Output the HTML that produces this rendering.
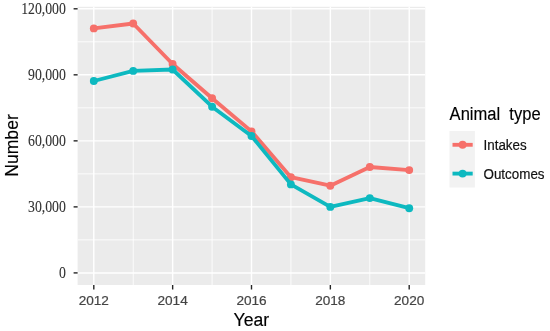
<!DOCTYPE html>
<html><head><meta charset="utf-8"><title>Animal intakes and outcomes</title>
<style>
html,body{margin:0;padding:0;background:#fff;}
svg{display:block;}
.ys{font-family:"Liberation Serif",serif;font-size:16.8px;fill:#333;stroke:#333;stroke-width:0.1px;}
.xs{font-family:"Liberation Sans",sans-serif;font-size:13.6px;fill:#444;stroke:#444;stroke-width:0.2px;}
.tt{font-family:"Liberation Sans",sans-serif;font-size:17.6px;fill:#000;stroke:#000;stroke-width:0.15px;}
.lg{font-family:"Liberation Sans",sans-serif;font-size:14.9px;fill:#111;stroke:#111;stroke-width:0.2px;}
</style></head><body>
<svg width="550" height="331" viewBox="0 0 550 331">
<rect width="550" height="331" fill="#ffffff"/>
<rect x="77.6" y="6.8" width="347.6" height="278.2" fill="#ebebeb"/>
<line x1="77.6" x2="425.2" y1="239.89" y2="239.89" stroke="#fff" stroke-width="0.85"/>
<line x1="77.6" x2="425.2" y1="173.86" y2="173.86" stroke="#fff" stroke-width="0.85"/>
<line x1="77.6" x2="425.2" y1="107.84" y2="107.84" stroke="#fff" stroke-width="0.85"/>
<line x1="77.6" x2="425.2" y1="41.81" y2="41.81" stroke="#fff" stroke-width="0.85"/>
<line y1="6.8" y2="285.0" x1="133.22" x2="133.22" stroke="#fff" stroke-width="0.85"/>
<line y1="6.8" y2="285.0" x1="212.07" x2="212.07" stroke="#fff" stroke-width="0.85"/>
<line y1="6.8" y2="285.0" x1="290.93" x2="290.93" stroke="#fff" stroke-width="0.85"/>
<line y1="6.8" y2="285.0" x1="369.77" x2="369.77" stroke="#fff" stroke-width="0.85"/>
<line x1="77.6" x2="425.2" y1="272.90" y2="272.90" stroke="#fff" stroke-width="1.45"/>
<line x1="77.6" x2="425.2" y1="206.88" y2="206.88" stroke="#fff" stroke-width="1.45"/>
<line x1="77.6" x2="425.2" y1="140.85" y2="140.85" stroke="#fff" stroke-width="1.45"/>
<line x1="77.6" x2="425.2" y1="74.83" y2="74.83" stroke="#fff" stroke-width="1.45"/>
<line x1="77.6" x2="425.2" y1="8.80" y2="8.80" stroke="#fff" stroke-width="1.45"/>
<line y1="6.8" y2="285.0" x1="93.80" x2="93.80" stroke="#fff" stroke-width="1.45"/>
<line y1="6.8" y2="285.0" x1="172.65" x2="172.65" stroke="#fff" stroke-width="1.45"/>
<line y1="6.8" y2="285.0" x1="251.50" x2="251.50" stroke="#fff" stroke-width="1.45"/>
<line y1="6.8" y2="285.0" x1="330.35" x2="330.35" stroke="#fff" stroke-width="1.45"/>
<line y1="6.8" y2="285.0" x1="409.20" x2="409.20" stroke="#fff" stroke-width="1.45"/>
<polyline fill="none" stroke="#F6706A" stroke-width="3.85" stroke-linejoin="round" points="93.8,28.4 133.2,23.5 172.6,64.0 212.1,98.2 251.5,131.4 290.9,177.2 330.3,185.7 369.8,167.0 409.2,170.1"/>
<circle cx="93.8" cy="28.4" r="3.95" fill="#F6706A"/>
<circle cx="133.2" cy="23.5" r="3.95" fill="#F6706A"/>
<circle cx="172.6" cy="64.0" r="3.95" fill="#F6706A"/>
<circle cx="212.1" cy="98.2" r="3.95" fill="#F6706A"/>
<circle cx="251.5" cy="131.4" r="3.95" fill="#F6706A"/>
<circle cx="290.9" cy="177.2" r="3.95" fill="#F6706A"/>
<circle cx="330.3" cy="185.7" r="3.95" fill="#F6706A"/>
<circle cx="369.8" cy="167.0" r="3.95" fill="#F6706A"/>
<circle cx="409.2" cy="170.1" r="3.95" fill="#F6706A"/>
<polyline fill="none" stroke="#0DB9C0" stroke-width="3.85" stroke-linejoin="round" points="93.8,81.0 133.2,70.9 172.6,69.5 212.1,106.7 251.5,136.0 290.9,184.4 330.3,206.9 369.8,198.1 409.2,208.2"/>
<circle cx="93.8" cy="81.0" r="3.95" fill="#0DB9C0"/>
<circle cx="133.2" cy="70.9" r="3.95" fill="#0DB9C0"/>
<circle cx="172.6" cy="69.5" r="3.95" fill="#0DB9C0"/>
<circle cx="212.1" cy="106.7" r="3.95" fill="#0DB9C0"/>
<circle cx="251.5" cy="136.0" r="3.95" fill="#0DB9C0"/>
<circle cx="290.9" cy="184.4" r="3.95" fill="#0DB9C0"/>
<circle cx="330.3" cy="206.9" r="3.95" fill="#0DB9C0"/>
<circle cx="369.8" cy="198.1" r="3.95" fill="#0DB9C0"/>
<circle cx="409.2" cy="208.2" r="3.95" fill="#0DB9C0"/>
<line x1="73.6" x2="77.6" y1="272.90" y2="272.90" stroke="#262626" stroke-width="1.4"/>
<text class="ys" text-anchor="end" transform="translate(65.9,278.2) scale(0.82,1)">0</text>
<line x1="73.6" x2="77.6" y1="206.88" y2="206.88" stroke="#262626" stroke-width="1.4"/>
<text class="ys" text-anchor="end" transform="translate(65.9,212.2) scale(0.82,1)">30,000</text>
<line x1="73.6" x2="77.6" y1="140.85" y2="140.85" stroke="#262626" stroke-width="1.4"/>
<text class="ys" text-anchor="end" transform="translate(65.9,146.2) scale(0.82,1)">60,000</text>
<line x1="73.6" x2="77.6" y1="74.83" y2="74.83" stroke="#262626" stroke-width="1.4"/>
<text class="ys" text-anchor="end" transform="translate(65.9,80.1) scale(0.82,1)">90,000</text>
<line x1="73.6" x2="77.6" y1="8.80" y2="8.80" stroke="#262626" stroke-width="1.4"/>
<text class="ys" text-anchor="end" transform="translate(65.9,14.1) scale(0.82,1)">120,000</text>
<line y1="285.0" y2="289.5" x1="93.80" x2="93.80" stroke="#262626" stroke-width="1.4"/>
<text class="xs" text-anchor="middle" x="93.8" y="305">2012</text>
<line y1="285.0" y2="289.5" x1="172.65" x2="172.65" stroke="#262626" stroke-width="1.4"/>
<text class="xs" text-anchor="middle" x="172.6" y="305">2014</text>
<line y1="285.0" y2="289.5" x1="251.50" x2="251.50" stroke="#262626" stroke-width="1.4"/>
<text class="xs" text-anchor="middle" x="251.5" y="305">2016</text>
<line y1="285.0" y2="289.5" x1="330.35" x2="330.35" stroke="#262626" stroke-width="1.4"/>
<text class="xs" text-anchor="middle" x="330.3" y="305">2018</text>
<line y1="285.0" y2="289.5" x1="409.20" x2="409.20" stroke="#262626" stroke-width="1.4"/>
<text class="xs" text-anchor="middle" x="409.2" y="305">2020</text>
<text class="tt" text-anchor="middle" x="251.3" y="326">Year</text>
<text class="tt" text-anchor="middle" transform="translate(18.2,145.5) rotate(-90)">Number</text>
<text class="tt" transform="translate(449.6,120.4) scale(0.94,1)" xml:space="preserve" style="white-space:pre;font-size:17.6px">Animal  type</text>
<rect x="449.5" y="131" width="25.4" height="56.5" fill="#f2f2f2"/>
<line x1="452.5" x2="472.7" y1="144.8" y2="144.8" stroke="#F6706A" stroke-width="3.85"/>
<circle cx="462.6" cy="144.8" r="3.95" fill="#F6706A"/>
<text class="lg" transform="translate(483.5,150.3) scale(0.9,1)">Intakes</text>
<line x1="452.5" x2="472.7" y1="173.6" y2="173.6" stroke="#0DB9C0" stroke-width="3.85"/>
<circle cx="462.6" cy="173.6" r="3.95" fill="#0DB9C0"/>
<text class="lg" transform="translate(483.5,179.1) scale(0.9,1)">Outcomes</text>
</svg></body></html>
